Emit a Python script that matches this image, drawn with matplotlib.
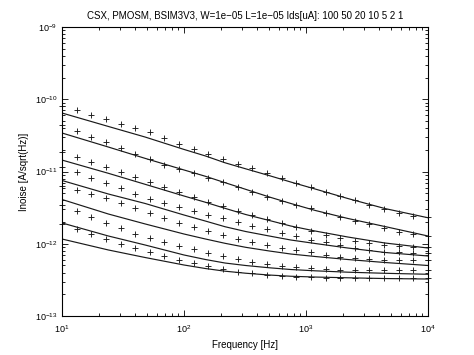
import matplotlib
matplotlib.use("Agg")
import matplotlib.pyplot as plt
from matplotlib.ticker import LogLocator, NullFormatter

plt.rcParams['font.family'] = ['Liberation Sans', 'DejaVu Sans']

title = "CSX, PMOSM, BSIM3V3, W=1e\u221205 L=1e\u221205 Ids[uA]: 100 50 20 10 5 2 1"
xlabel = "Frequency [Hz]"
ylabel = "Inoise [A/sqrt(Hz)]"

# measured (markers) frequencies [Hz]
freq_meas = [10, 13.2, 17.4, 22.9, 30.2, 39.8, 52.5, 69.2, 91.2, 120, 158, 209,
             275, 363, 479, 631, 832, 1096, 1445, 1905, 2512, 3311, 4365, 5754,
             7586, 10000]

# measured noise, pA/sqrt(Hz), one list per Ids
meas_100 = [81.9, 71.0, 61.1, 53.3, 45.9, 39.6, 34.9, 28.8, 24.0, 20.5, 17.5, 14.9,
            12.7, 11.1, 9.44, 8.05, 7.00, 6.04, 5.15, 4.62, 4.03, 3.44, 3.03, 2.64,
            2.44, 2.32]
meas_50 = [44.0, 36.7, 30.3, 25.4, 20.9, 17.3, 14.8, 12.3, 10.8, 9.44, 8.21, 7.22,
           6.04, 5.15, 4.48, 3.91, 3.44, 3.09, 2.64, 2.37, 2.08, 1.86, 1.64, 1.45,
           1.36, 1.26]
meas_20 = [18.4, 15.7, 13.4, 11.7, 9.94, 8.47, 7.22, 6.16, 5.15, 4.48, 3.82, 3.36,
           2.87, 2.50, 2.20, 1.96, 1.72, 1.50, 1.32, 1.19, 1.09, 1.01, 0.970, 0.922,
           0.910, 0.902]
meas_10 = [11.5, 9.75, 8.21, 6.93, 5.82, 4.88, 4.16, 3.63, 3.20, 2.84, 2.54, 2.27,
           2.02, 1.78, 1.575, 1.42, 1.28, 1.145, 1.047, 0.961, 0.873, 0.820, 0.781,
           0.761, 0.745, 0.733]
meas_5 = [6.40, 5.54, 4.84, 4.23, 3.63, 3.09, 2.64, 2.25, 1.96, 1.72, 1.50, 1.32,
          1.163, 1.047, 0.961, 0.882, 0.812, 0.757, 0.699, 0.660, 0.631, 0.615,
          0.605, 0.596, 0.596, 0.596]
meas_2 = [3.44, 2.84, 2.35, 1.94, 1.63, 1.386, 1.20, 1.057, 0.940, 0.838, 0.752,
          0.677, 0.615, 0.563, 0.524, 0.495, 0.474, 0.457, 0.447, 0.440, 0.436,
          0.433, 0.433, 0.433, 0.433, 0.433]
meas_1 = [1.86, 1.58, 1.35, 1.152, 0.992, 0.873, 0.769, 0.677, 0.600, 0.536, 0.487,
          0.444, 0.412, 0.388, 0.369, 0.358, 0.350, 0.344, 0.341, 0.340, 0.339,
          0.339, 0.339, 0.339, 0.339, 0.339]

# simulated (lines) frequencies [Hz]
freq_sim = [10, 24, 48, 100, 150, 217, 320, 500, 750, 1190, 2200, 4440, 10000]
sim_100 = [64.5, 42.0, 30.0, 20.2, 16.4, 13.2, 10.9, 8.77, 7.15, 5.72, 4.23, 3.07, 2.29]
sim_50 = [34.1, 21.8, 15.2, 10.5, 8.58, 7.00, 5.67, 4.44, 3.61, 2.89, 2.24, 1.73, 1.28]
sim_20 = [14.4, 9.44, 6.65, 4.58, 3.75, 3.09, 2.54, 2.10, 1.76, 1.50, 1.24, 1.024, 0.873]
sim_10 = [7.51, 4.88, 3.61, 2.50, 2.06, 1.72, 1.477, 1.28, 1.127, 1.008, 0.873, 0.757, 0.677]
sim_5 = [4.10, 2.58, 1.88, 1.364, 1.163, 1.014, 0.893, 0.794, 0.721, 0.666, 0.605, 0.550, 0.500]
sim_2 = [1.94, 1.28, 0.961, 0.699, 0.605, 0.541, 0.500, 0.465, 0.440, 0.422, 0.404, 0.390, 0.378]
sim_1 = [1.163, 0.820, 0.645, 0.508, 0.454, 0.417, 0.391, 0.369, 0.355, 0.346, 0.338, 0.330, 0.325]

PA = 1e-12
meas = [meas_100, meas_50, meas_20, meas_10, meas_5, meas_2, meas_1]
sims = [sim_100, sim_50, sim_20, sim_10, sim_5, sim_2, sim_1]

fig = plt.figure(figsize=(4.74, 3.55), dpi=100)
ax = fig.add_axes([62/474, 39/355, 366/474, 289/355])

for s in sims:
    ax.plot(freq_sim, [v * PA for v in s], color='#1a1a1a', linewidth=0.85)
for m in meas:
    ax.plot(freq_meas, [v * PA for v in m], linestyle='none', marker='+',
            color='#1a1a1a', markersize=4.3, markeredgewidth=0.65, clip_on=False)

ax.set_xscale('log')
ax.set_yscale('log')
ax.set_xlim(10, 1e4)
ax.set_ylim(1e-13, 1e-9)

ax.xaxis.set_major_locator(LogLocator(base=10, numticks=10))
ax.yaxis.set_major_locator(LogLocator(base=10, numticks=10))
ax.xaxis.set_minor_locator(LogLocator(base=10, subs=range(2, 10), numticks=20))
ax.yaxis.set_minor_locator(LogLocator(base=10, subs=range(2, 10), numticks=20))
ax.xaxis.set_minor_formatter(NullFormatter())
ax.yaxis.set_minor_formatter(NullFormatter())

ax.tick_params(which='both', direction='in', top=True, right=True, labelsize=6.5,
               width=0.6, color='black')
ax.tick_params(which='major', length=4)
ax.tick_params(which='minor', length=2)
ax.tick_params(axis='x', pad=5)
for sp in ax.spines.values():
    sp.set_linewidth(0.8)

ax.set_title(title, fontsize=7, pad=6)
ax.set_xlabel(xlabel, fontsize=7, labelpad=4)
ax.set_ylabel(ylabel, fontsize=7, labelpad=4)

fig.savefig("out.png", dpi=100)
